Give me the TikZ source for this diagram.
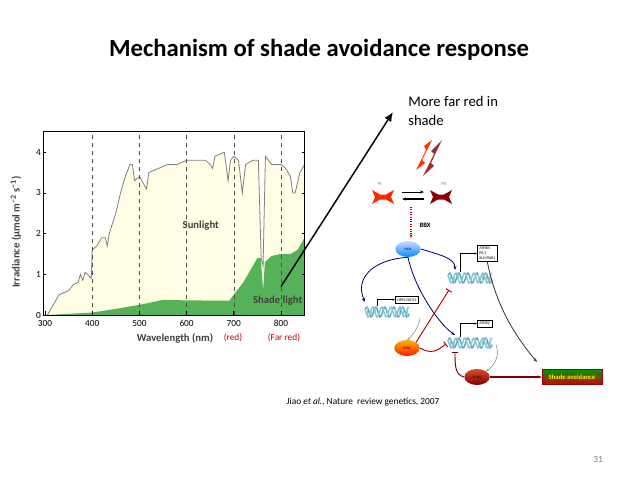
\documentclass[tikz,border=0pt]{standalone}
\usepackage{fontspec}
\setmainfont{Carlito}
\usetikzlibrary{arrows.meta,shapes.geometric}
\definecolor{cream}{RGB}{255,253,228}
\definecolor{shadegreen}{RGB}{86,178,88}
\definecolor{dnac}{RGB}{90,170,190}
\tikzset{
  every node/.style={inner sep=0pt},
  tick/.style={line width=0.5pt},
  vdash/.style={dashed,line width=0.4pt,black!70},
  ttl/.style={font=\bfseries\fontsize{18.5}{21}\selectfont},
  tiny/.style={font=\fontsize{3.5}{4}\selectfont},
  genebox/.style={draw,fill=white,line width=0.4pt,align=left,inner sep=1.5pt,font=\fontsize{3}{3.6}\selectfont},
  bubble/.style={ellipse,minimum width=19pt,minimum height=12pt,font=\fontsize{2.5}{3}\selectfont},
  act/.style={-{Stealth[length=3pt]},line width=0.6pt},
  inh/.style={-{Bar[width=5pt]},line width=0.7pt,red!70!black},
  dna/.pic={
    \draw[dnac,line width=1.1pt] plot[domain=-22:22,samples=45] (\x,{5*sin(\x*40)});
    \draw[dnac!70,line width=1.1pt] plot[domain=-22:22,samples=45] (\x,{5*sin(\x*40+120)});
    \foreach \i in {-20,-16,...,20} \draw[dnac!60,line width=0.4pt] (\i,{5*sin(\i*40)}) -- (\i,{5*sin(\i*40+120)});
  },
  phy/.pic={
    \fill[#1] (-11,-7) -- (-3,-2.5) -- (3,-2.5) -- (11,-7) -- (8,0) -- (11,7) -- (3,2.5) -- (-3,2.5) -- (-11,7) -- (-8,0) -- cycle;
  },
}
\begin{document}
\begin{tikzpicture}[x=0.75pt,y=-0.75pt]
\useasboundingbox (0,0) rectangle (638,478);
\fill[white] (0,0) rectangle (638,478);
\node[ttl] (title) at (319,50) {Mechanism of shade avoidance response};

% ---------- chart ----------
\begin{scope}[shift={(-96.6,315)},xscale=0.472,yscale=-40.7]
 \fill[cream] (305,0) -- (320,0.3) -- (330,0.5) -- (350,0.6) -- (360,0.75) -- (370,0.8) -- (375,1.0) -- (380,0.85) -- (385,1.05) -- (390,1.0) -- (398,0.9) -- (400,1.6) -- (410,1.7) -- (420,1.9) -- (428,1.9) -- (432,1.7) -- (436,2.0) -- (450,2.5) -- (460,3.0) -- (470,3.4) -- (480,3.7) -- (485,3.7) -- (490,3.3) -- (500,3.4) -- (510,3.2) -- (515,3.1) -- (520,3.5) -- (540,3.6) -- (560,3.7) -- (580,3.7) -- (600,3.8) -- (620,3.8) -- (640,3.8) -- (650,3.7) -- (655,3.6) -- (660,3.9) -- (680,4.0) -- (688,3.3) -- (693,3.8) -- (700,3.9) -- (710,3.8) -- (718,3.0) -- (725,3.7) -- (740,3.8) -- (752,3.8) -- (758,1.4) -- (762,1.2) -- (767,3.9) -- (780,3.7) -- (800,3.7) -- (810,3.6) -- (820,3.4) -- (825,3.0) -- (830,3.0) -- (840,3.5) -- (850,3.7) -- (850,0) -- cycle;
 \draw[gray,line width=0.6pt] (305,0) -- (320,0.3) -- (330,0.5) -- (350,0.6) -- (360,0.75) -- (370,0.8) -- (375,1.0) -- (380,0.85) -- (385,1.05) -- (390,1.0) -- (398,0.9) -- (400,1.6) -- (410,1.7) -- (420,1.9) -- (428,1.9) -- (432,1.7) -- (436,2.0) -- (450,2.5) -- (460,3.0) -- (470,3.4) -- (480,3.7) -- (485,3.7) -- (490,3.3) -- (500,3.4) -- (510,3.2) -- (515,3.1) -- (520,3.5) -- (540,3.6) -- (560,3.7) -- (580,3.7) -- (600,3.8) -- (620,3.8) -- (640,3.8) -- (650,3.7) -- (655,3.6) -- (660,3.9) -- (680,4.0) -- (688,3.3) -- (693,3.8) -- (700,3.9) -- (710,3.8) -- (718,3.0) -- (725,3.7) -- (740,3.8) -- (752,3.8) -- (758,1.4) -- (762,1.2) -- (767,3.9) -- (780,3.7) -- (800,3.7) -- (810,3.6) -- (820,3.4) -- (825,3.0) -- (830,3.0) -- (840,3.5) -- (850,3.7);
 \fill[shadegreen] (305,0) -- (400,0.06) -- (450,0.15) -- (500,0.25) -- (550,0.37) -- (600,0.36) -- (690,0.35) -- (700,0.5) -- (720,0.8) -- (740,1.2) -- (750,1.4) -- (757,1.4) -- (762,0.6) -- (766,1.3) -- (780,1.45) -- (800,1.5) -- (820,1.5) -- (835,1.6) -- (850,1.9) -- (850,0) -- cycle;
 \foreach \w in {400,500,600,700,800} \draw[vdash] (\w,0) -- (\w,4.5);
 \draw[line width=0.6pt] (297,0) rectangle (850,4.5);
 \foreach \v in {0,1,2,3,4} {\draw[tick] (297,\v) -- (302,\v); \draw[tick] (850,\v) -- (845,\v);
   \node[font=\fontsize{7}{8}\selectfont,anchor=east] at (292,\v) {\v};}
 \foreach \w in {300,400,...,800} {\draw[tick] (\w,0) -- (\w,0.1);
   \node[font=\fontsize{7}{8}\selectfont] at (\w,-0.2) {\w};}
 \node[font=\bfseries\fontsize{8}{9}\selectfont,text=black!75] (sun) at (630,2.2) {Sunlight};
 \node[font=\bfseries\fontsize{8}{9}\selectfont,text=black!75] (shadel) at (793,0.35) {Shade light};
 \coordinate (sp) at (800,0.7);
\end{scope}
\node[font=\bfseries\fontsize{8}{9}\selectfont,rotate=90,text=black!75] (ylab) at (16,232) {Irradiance (µmol m\textsuperscript{−2} s\textsuperscript{−1})};
\node[font=\bfseries\fontsize{8}{9}\selectfont,text=black!75] (xlab) at (175,338) {Wavelength (nm)};
\node[font=\fontsize{7}{8}\selectfont,text=red!80!black] (redl) at (233,338) {(red)};
\node[font=\fontsize{7}{8}\selectfont,text=red!80!black] (frl) at (284,338) {(Far red)};

% ---------- pointer ----------
\node[font=\fontsize{11}{14}\selectfont,align=left,anchor=north west] (more) at (408,96) {More far red in\\shade};
\coordinate (tip) at (393,112);
\draw[-{Latex[length=7pt,width=6pt]},line width=1.1pt] (sp) -- (tip);

% ---------- right diagram ----------
\fill[red!60!orange] (416,170) -- (426,150) -- (424,146) -- (432,140) -- (422,160) -- (425,163) -- cycle;
\fill[red!50!black!80] (423,176) -- (434,154) -- (431,151) -- (442,140) -- (431,163) -- (434,166) -- cycle;
\pic (pr) at (383,197) {phy=red!70!orange};
\pic (pfr) at (441,197) {phy=red!55!black};
\node[tiny,text=gray] (prl) at (380,184) {Pr};
\node[tiny,text=gray] (pfrl) at (444,184) {Pfr};
\coordinate (a1) at (402,192); \coordinate (a2) at (424,192);
\coordinate (b1) at (402,199); \coordinate (b2) at (424,199);
\draw[-{Stealth[length=3pt]},line width=0.7pt] (a1) -- (a2);
\draw[-{Stealth[length=3pt]},line width=1pt] (b2) -- (b1);
\coordinate (d1) at (411,207); \coordinate (d2) at (411,238);
\draw[densely dotted,red!70!black,line width=0.8pt,-{Stealth[length=3pt]}] (d1) -- (d2);
\node[font=\bfseries\fontsize{5}{6}\selectfont] (bbx) at (425,225) {BBX};

\node[bubble,top color=blue!15,bottom color=blue!45!cyan] (pif) at (408,249) {PIF3s};
\pic at (470,278) {dna};
\pic at (387,312) {dna};
\pic at (470,343) {dna};
\node[genebox,anchor=north west] (g1) at (477,245) {ATHB4\\PIL1\\XLH/PAR1};
\node[genebox,anchor=north west] (g2) at (395,296) {HFR1/SICS1};
\node[genebox,anchor=north west] (g3) at (477,320) {ATHB2};
\coordinate (p1) at (460,272); \coordinate (p2) at (377,306); \coordinate (p3) at (460,337);
\draw[-{Stealth[length=2pt]},line width=0.4pt] (p1) |- (g1.west);
\draw[-{Stealth[length=2pt]},line width=0.4pt] (p2) |- (g2.west);
\draw[-{Stealth[length=2pt]},line width=0.4pt] (p3) |- (g3.west);

\node[bubble,top color=orange!60!yellow,bottom color=red!80!orange] (hfr) at (407,348) {HFR1};
\node[bubble,top color=red!40!brown,bottom color=red!50!black] (athb2) at (477,377) {ATHB2};
\node[draw=red!60!black,line width=0.6pt,font=\bfseries\fontsize{5}{6}\selectfont,text=yellow,minimum width=45pt,minimum height=11pt,top color=green!60!black,middle color=orange!80!red,bottom color=red!80!black] (sa) at (572,377) {Shade avoidance};

\draw[act,blue!40!black] (pif.east) .. controls (440,255) and (455,258) .. (455,270);
\draw[act,blue!40!black] (pif.south) .. controls (370,260) and (355,280) .. (365,302);
\draw[act,blue!40!black] (pif.south) .. controls (415,290) and (440,325) .. (455,335);
\draw[act,black!80] (g1.south) .. controls (495,300) and (510,330) .. (537,362);
\draw[-{Stealth[length=2pt]},gray,line width=0.4pt] (420,318) .. controls (418,330) and (410,338) .. (hfr.north);
\draw[inh] (hfr.north east) -- (449,290);
\draw[inh] (hfr.east) .. controls (432,355) and (438,350) .. (446,344);
\draw[-{Stealth[length=2pt]},gray,line width=0.4pt] (496,345) .. controls (500,355) and (495,365) .. (athb2.north east);
\draw[inh,red!40!black] (athb2.west) .. controls (455,375) and (455,365) .. (455,352);
\draw[act,red!50!black,line width=1pt] (athb2.east) -- (sa.west);

\node[font=\fontsize{7}{8}\selectfont] (cite) at (363,402) {Jiao \textit{et al.,} Nature\ \ review genetics, 2007};
\node[font=\fontsize{7}{8}\selectfont,text=gray] (pg) at (598,459) {31};
\end{tikzpicture}
\end{document}
